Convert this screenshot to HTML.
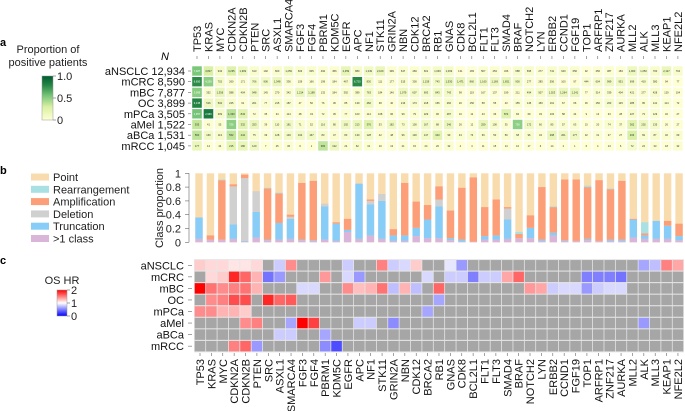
<!DOCTYPE html>
<html><head><meta charset="utf-8"><style>
body{margin:0;background:#fff}
svg{display:block;font-family:"Liberation Sans",sans-serif}
</style></head><body>
<svg id="fig" width="685" height="411" viewBox="0 0 685 411" xmlns="http://www.w3.org/2000/svg">
<defs>
<linearGradient id="gYG" x1="0" y1="1" x2="0" y2="0">
<stop offset="0" stop-color="#ffffd4"/><stop offset="0.3" stop-color="#d9f0a3"/><stop offset="0.55" stop-color="#78c679"/><stop offset="0.8" stop-color="#238443"/><stop offset="1" stop-color="#005a32"/></linearGradient>
<linearGradient id="gBWR" x1="0" y1="1" x2="0" y2="0">
<stop offset="0" stop-color="#0000ff"/><stop offset="0.5" stop-color="#ffffff"/><stop offset="1" stop-color="#ff0000"/></linearGradient>
</defs>
<g id="pa"></g>
<g id="pb"></g>
<g id="pc"></g>
</svg>
<script>
const genes=["TP53","KRAS","MYC","CDKN2A","CDKN2B","PTEN","SRC","ASXL1","SMARCA4","FGF3","FGF4","PBRM1","KDM5C","EGFR","APC","NF1","STK11","GRIN2A","NBN","CDK12","BRCA2","RB1","GNAS","CDK8","BCL2L1","FLT1","FLT3","SMAD4","BRAF","NOTCH2","LYN","ERBB2","CCND1","FGF19","TOP1","ARFRP1","ZNF217","AURKA","MLL2","ALK","MLL3","KEAP1","NFE2L2"];
const cohorts=["aNSCLC","mCRC","mBC","OC","mPCa","aMel","aBCa","mRCC"];
const cohortN=[12934,8590,7877,3899,3505,1522,1531,1045];
const counts=[
[7027,3827,943,3235,1909,613,192,660,1259,603,605,492,456,2459,880,1349,2109,399,647,469,601,1039,1099,131,183,507,453,346,688,695,277,741,640,650,92,256,387,183,1903,1050,700,2127,704],
[6650,4259,702,260,171,706,906,1348,336,159,166,199,184,467,6720,830,111,177,515,300,1159,743,1530,1471,860,1160,1169,1651,900,277,285,556,100,97,444,604,999,951,699,419,380,94,77],
[3999,352,1356,588,404,948,145,270,342,1214,1189,132,184,392,389,763,184,146,1079,607,693,843,743,99,119,167,137,199,211,494,507,1023,1264,1241,77,314,339,404,421,277,428,129,104],
[3135,516,532,225,61,201,77,215,187,47,50,76,36,85,139,482,38,40,216,173,218,156,260,20,150,58,55,43,155,145,150,161,67,66,36,150,263,145,285,95,141,114,72],
[1957,2966,309,1333,843,72,35,34,114,48,43,72,45,77,103,114,108,96,99,79,229,96,287,10,12,43,36,874,84,69,33,103,58,44,9,13,33,28,227,73,129,32,27],
[535,41,55,756,332,253,39,110,181,71,52,116,80,192,213,376,53,182,73,100,167,88,246,26,12,259,100,35,750,172,60,85,57,63,15,20,74,37,362,202,135,26,27],
[560,160,113,552,444,75,39,128,149,164,167,83,47,83,130,128,42,48,96,130,147,343,99,43,73,66,50,59,68,96,34,268,201,177,32,31,37,27,463,69,87,46,69],
[177,14,24,215,186,120,7,25,36,6,1,383,132,24,62,31,10,13,21,15,24,20,32,4,4,11,15,14,10,17,6,14,2,1,6,4,13,6,72,24,33,18,32]];
const multiVals=[.05,.04,.04,.05,.01,.07,.03,.04,.05,.03,.02,.04,.02,.15,.05,.10,.05,.02,.02,.09,.06,.06,.03,.01,.01,.04,.04,.05,.06,.06,.02,.10,.02,.02,.03,.02,.02,.02,.07,.05,.05,.05,.03];
const truncVals=[.31,0,0,.21,.01,.37,.01,.24,.29,.01,.01,.48,.25,.03,.80,.45,.55,.08,.08,.12,.27,.46,.03,.03,0,.05,.06,.28,0,.15,.02,.04,.01,0,.02,0,.02,.02,.26,.05,.26,.19,.06];
const delVals=[0,0,0,.55,.91,.30,0,0,.03,0,0,.04,0,0,0,.05,.10,0,0,0,0,.10,0,0,0,0,0,.16,0,0,0,0,0,0,0,0,0,0,0,0,0,0,0];
const ampVals=[0,.06,.86,.03,.05,0,.74,.43,.03,.82,.86,0,.02,.16,0,.02,0,.09,.76,.38,.21,.19,.40,.75,.93,.42,.52,.02,.06,.18,.76,.37,.88,.89,.75,.88,.73,.85,.01,.03,0,.07,.18];
const rearrVals=[0,0,.01,0,0,0,.01,.01,0,0,0,0,0,0,0,0,0,0,0,0,0,0,0,0,0,0,0,0,.03,0,0,.01,0,0,.02,0,.01,0,0,.16,0,0,0];
const N=null;
const hr=[
[1.2,1.15,1.15,1.1,1.1,1.15,N,.8,1.45,N,N,N,N,.8,N,N,1.5,.8,.85,1.2,N,N,.9,.6,N,N,N,N,N,N,N,N,N,N,N,N,N,N,N,.65,.75,1.5,1.35],
[N,1.15,1.2,1.85,1.6,1.3,.45,.6,N,N,N,1.4,N,.85,.6,N,N,N,N,N,.85,N,.8,.8,.5,.8,.8,1.35,1.6,N,N,N,N,N,.5,.5,.5,.45,N,N,N,N,N],
[2.0,1.55,1.45,1.5,1.55,1.3,N,N,N,.85,.85,N,N,1.45,1.25,1.3,1.55,.75,1.3,.75,N,1.6,N,N,N,N,N,N,N,1.4,1.35,.8,.85,.85,.6,.8,.85,.85,N,N,N,N,N],
[N,1.45,1.5,1.7,1.7,N,1.85,1.6,1.65,N,N,N,N,N,N,N,N,N,N,N,N,.65,N,N,N,N,N,N,N,N,N,N,N,N,N,N,N,N,N,N,N,N,N],
[1.45,1.45,1.3,1.3,1.2,N,N,N,N,N,N,N,N,N,N,N,N,N,N,N,.65,N,N,N,N,N,N,N,N,N,N,N,N,N,N,N,N,N,N,N,N,N,N],
[N,N,N,N,1.45,1.5,N,N,.65,2.0,1.75,N,N,N,.8,.8,N,.55,N,N,N,N,N,N,N,N,N,N,N,N,N,N,N,N,N,N,N,N,N,.6,N,N,N],
[N,N,N,N,N,N,N,.8,.8,N,N,.65,N,N,N,N,N,N,N,N,N,N,N,N,N,N,N,N,N,N,N,N,N,N,N,N,N,N,N,N,N,N,N],
[N,N,N,1.5,1.6,.6,N,N,N,N,N,.55,.3,N,N,N,N,N,N,N,N,N,N,N,N,N,N,N,N,N,N,N,N,N,N,N,N,N,N,N,N,N,N]];
const barTicks=[0,0.2,0.4,0.6,0.8,1];
const tickLabels=["0","0.2","0.4","0.6","0.8","1"];

const NS="http://www.w3.org/2000/svg";
function mk(parent,tag,attrs,text){const e=document.createElementNS(NS,tag);for(const k in attrs)e.setAttribute(k,attrs[k]);if(text!==undefined)e.textContent=text;parent.appendChild(e);return e;}
function lerp(a,b,t){return a.map((v,i)=>Math.round(v+(b[i]-v)*t));}
const ygStops=[[0,[255,255,212]],[0.3,[217,240,163]],[0.55,[120,198,121]],[0.8,[35,132,67]],[1,[0,90,50]]];
function ygColor(p){p=Math.max(0,Math.min(1,p));for(let i=1;i<ygStops.length;i++){if(p<=ygStops[i][0]){const t=(p-ygStops[i-1][0])/(ygStops[i][0]-ygStops[i-1][0]);return "rgb("+lerp(ygStops[i-1][1],ygStops[i][1],t)+")";}}return "rgb(0,90,50)";}
function hrColor(v){if(v===null)return "#a6a6a6";v=Math.max(0,Math.min(2,v));if(v>=1)return "rgb("+lerp([255,255,255],[255,0,0],v-1)+")";return "rgb("+lerp([0,0,255],[255,255,255],v)+")";}
function fmt(n){return n.toLocaleString("en-US");}

// ---------- Panel a ----------
const pa=document.getElementById("pa");
let t=mk(pa,"text",{x:0,y:46,"font-size":11,"font-weight":"bold"},"a");


t=mk(pa,"text",{x:48,y:53,"font-size":11,"text-anchor":"middle",fill:"#222"},"Proportion of");


t=mk(pa,"text",{x:48,y:66,"font-size":11,"text-anchor":"middle",fill:"#222"},"positive patients");


t=mk(pa,"rect",{x:42,y:76,width:11,height:44,fill:"url(#gYG)",stroke:"#999","stroke-width":0.5});


[["1.0",76],["0.5",98],["0",120]].forEach(([l,y])=>{mk(pa,"line",{x1:53,x2:56,y1:y,y2:y,stroke:"#666","stroke-width":0.6});
 const e=mk(pa,"text",{x:57,y:y+4,"font-size":11,fill:"#222"},l);
 
 });
const axX=i=>197+i*11.45, axY=r=>71+r*10.7;
t=mk(pa,"text",{x:165,y:60,"font-size":11,"font-style":"italic","text-anchor":"middle"},"N");


genes.forEach((g,i)=>{const x=axX(i);
 const e=mk(pa,"text",{x:0,y:0,"font-size":11,transform:`translate(${x+4},52) rotate(-90)`,fill:"#111"},g);
 
 
 mk(pa,"line",{x1:x,x2:x,y1:56,y2:59,stroke:"#666","stroke-width":0.6});});
cohorts.forEach((c,r)=>{const y=axY(r);
 const e=mk(pa,"text",{x:185,y:y+4,"font-size":11,"text-anchor":"end",fill:"#111"},c+" "+fmt(cohortN[r]));
 
 
 mk(pa,"line",{x1:188,x2:191,y1:y,y2:y,stroke:"#666","stroke-width":0.6});
 genes.forEach((g,i)=>{const p=counts[r][i]/cohortN[r];const x=axX(i);
  const cell=mk(pa,"rect",{x:x-4.8,y:y-4.7,width:9.6,height:9.4,fill:ygColor(p)});
  
  
  mk(pa,"text",{x:x,y:y+1,"font-size":2.6,"text-anchor":"middle",fill:p>0.45?"#fff":"#333"},fmt(counts[r][i]));});});

// ---------- Panel b ----------
const pb=document.getElementById("pb");
t=mk(pb,"text",{x:0,y:174,"font-size":11,"font-weight":"bold"},"b");


const classes=[["Point","#f9dcae"],["Rearrangement","#a9e0e3"],["Amplification","#fc9f78"],["Deletion","#d0d0d0"],["Truncation","#87cdf8"],[">1 class","#d9b6d9"]];
classes.forEach(([l,c],k)=>{const y=177+k*12.3;
 const sw=mk(pb,"rect",{x:31,y:y-3.5,width:18,height:7,fill:c});
 
 
 const e=mk(pb,"text",{x:53,y:y+4,"font-size":11,fill:"#222"},l);
 
 });
const bx=i=>199+i*11.43, by=v=>242.3-v*69;
mk(pb,"line",{x1:189,x2:189,y1:by(1),y2:by(0),stroke:"#666","stroke-width":0.6});
barTicks.forEach((v,k)=>{mk(pb,"line",{x1:185,x2:189,y1:by(v),y2:by(v),stroke:"#666","stroke-width":0.6});
 const e=mk(pb,"text",{x:181,y:by(v)+4,"font-size":11,"text-anchor":"end",fill:"#222"},tickLabels[k]);
 
 });
t=mk(pb,"text",{x:0,y:0,"font-size":11,"text-anchor":"middle",transform:"translate(163,208) rotate(-90)",fill:"#222"},"Class proportion");


genes.forEach((g,i)=>{const segs=[multiVals[i],truncVals[i],delVals[i],ampVals[i],rearrVals[i]];
 const cols=["#d9b6d9","#87cdf8","#d0d0d0","#fc9f78","#a9e0e3"];
 let acc=0;const x=bx(i)-3.7;
 const pt=mk(pb,"rect",{x:x,y:by(1),width:7.4,height:by(0)-by(1),fill:"#f9dcae"});
 
 
 segs.forEach((v,k)=>{if(v<=0)return;
  const b=mk(pb,"rect",{x:x,y:by(acc+v),width:7.4,height:by(acc)-by(acc+v),fill:cols[k]});
  
  
  acc+=v;});});

// ---------- Panel c ----------
const pc=document.getElementById("pc");
t=mk(pc,"text",{x:0,y:264,"font-size":11,"font-weight":"bold"},"c");


t=mk(pc,"text",{x:62,y:284,"font-size":11,"text-anchor":"middle",fill:"#222"},"OS HR");


t=mk(pc,"rect",{x:57,y:290,width:10,height:26,fill:"url(#gBWR)",stroke:"#999","stroke-width":0.5});


[["2",290],["1",303],["0",316]].forEach(([l,y])=>{mk(pc,"line",{x1:67,x2:70,y1:y,y2:y,stroke:"#666","stroke-width":0.6});
 const e=mk(pc,"text",{x:71,y:y+4,"font-size":11,fill:"#222"},l);
 
 });
const cx=i=>200+i*11.38, cy=r=>265.3+r*11.55;
mk(pc,"rect",{x:cx(0)-6,y:cy(0)-6.2,width:cx(42)-cx(0)+12,height:cy(7)-cy(0)+12.4,fill:"#e6e6e6"});
cohorts.forEach((c,r)=>{const y=cy(r);
 const e=mk(pc,"text",{x:184,y:y+4,"font-size":11,"text-anchor":"end",fill:"#111"},c);
 
 
 mk(pc,"line",{x1:188,x2:192,y1:y,y2:y,stroke:"#666","stroke-width":0.6});
 genes.forEach((g,i)=>{const x=cx(i);
  const cell=mk(pc,"rect",{x:x-5.3,y:y-5.25,width:10.6,height:10.5,fill:hrColor(hr[r][i])});
  
  });});
genes.forEach((g,i)=>{const x=cx(i);
 mk(pc,"line",{x1:x,x2:x,y1:353,y2:356,stroke:"#666","stroke-width":0.6});
 const e=mk(pc,"text",{x:0,y:0,"font-size":11,"text-anchor":"end",transform:`translate(${x+4},359) rotate(-90)`,fill:"#111"},g);
 
 });
</script>
</body></html>
